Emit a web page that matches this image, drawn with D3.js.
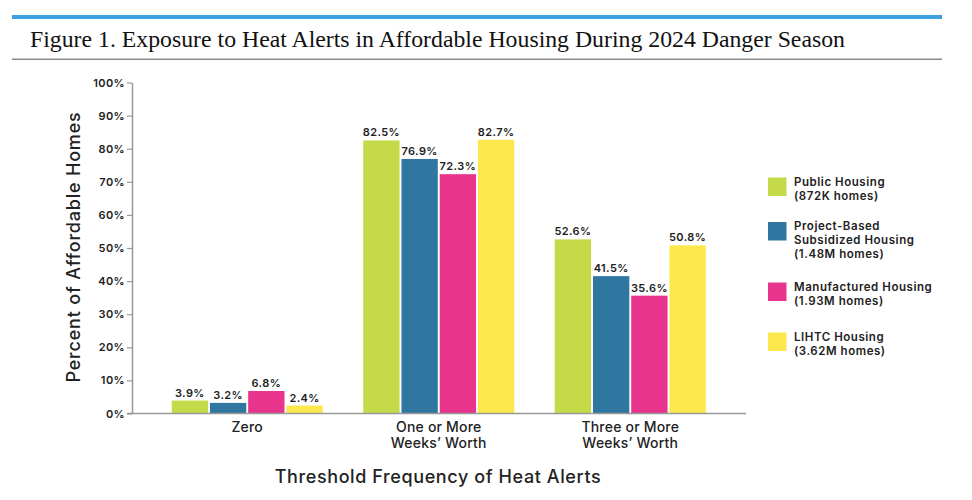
<!DOCTYPE html>
<html>
<head>
<meta charset="utf-8">
<script src="https://cdn.jsdelivr.net/npm/d3@7"></script>
<style>
  html, body { margin: 0; padding: 0; background: #fff; }
  svg { display: block; }
</style>
</head>
<body>
<svg id="chart" width="972" height="500"></svg>
<script>
const categories = [["Zero"], ["One or More", "Weeks\u2019 Worth"], ["Three or More", "Weeks\u2019 Worth"]];
const categoryKeys = ["Zero", "One or More Weeks\u2019 Worth", "Three or More Weeks\u2019 Worth"];
const seriesNames = [
  ["Public Housing", "(872K homes)"],
  ["Project-Based", "Subsidized Housing", "(1.48M homes)"],
  ["Manufactured Housing", "(1.93M homes)"],
  ["LIHTC Housing", "(3.62M homes)"]
];
const seriesKeys = ["public", "project", "manufactured", "lihtc"];
const seriesColors = ["#c4da48", "#2f76a1", "#e8348c", "#fce84c"];
const publicHousing = [3.9, 82.5, 52.6];
const projectBased = [3.2, 76.9, 41.5];
const manufactured = [6.8, 72.3, 35.6];
const lihtc = [2.4, 82.7, 50.8];
const yTicks = [0, 10, 20, 30, 40, 50, 60, 70, 80, 90, 100];

const seriesValues = [publicHousing, projectBased, manufactured, lihtc];

const svg = d3.select("#chart");
const sans = "Inter, 'Noto Sans', sans-serif";
const textColor = "#222";

// header
svg.append("rect").attr("x", 12).attr("y", 15).attr("width", 930).attr("height", 4).attr("fill", "#3fa0e0");
svg.append("text")
  .attr("x", 30).attr("y", 47)
  .attr("font-family", "'Liberation Serif', 'Times New Roman', serif")
  .attr("font-size", 23)
  .attr("fill", "#111")
  .attr("textLength", 815).attr("lengthAdjust", "spacingAndGlyphs")
  .text("Figure 1. Exposure to Heat Alerts in Affordable Housing During 2024 Danger Season");
svg.append("rect").attr("x", 12).attr("y", 58.5).attr("width", 930).attr("height", 1.5).attr("fill", "#8a8a8a");

// scales
const x0 = d3.scaleBand().domain(categoryKeys).range([131.5, 746]).paddingInner(0.2115).paddingOuter(0.21);
const x1 = d3.scaleBand().domain(seriesKeys).range([0, x0.bandwidth()]).paddingInner(0.05);
const y = d3.scaleLinear().domain([0, 100]).range([413.5, 82.5]);

// y axis
const yAxis = d3.axisLeft(y).tickValues(yTicks).tickFormat(d => d + "%").tickSize(5).tickSizeOuter(0);
const gy = svg.append("g").attr("transform", "translate(132,0)").call(yAxis);
gy.select(".domain").attr("stroke", "#999").attr("stroke-width", 1.5);
gy.selectAll(".tick line").attr("stroke", "#999").attr("stroke-width", 1.2);
gy.selectAll(".tick text")
  .attr("font-family", sans).attr("font-size", 11).attr("font-weight", 600)
  .attr("letter-spacing", 0.4)
  .attr("fill", textColor).attr("x", -7);

// bars
const groups = svg.append("g").selectAll("g").data(categoryKeys).join("g")
  .attr("transform", d => `translate(${x0(d)},0)`);

groups.each(function(cat, ci) {
  const g = d3.select(this);
  const rows = seriesKeys.map((k, si) => ({ key: k, value: seriesValues[si][ci], color: seriesColors[si] }));
  g.selectAll("rect").data(rows).join("rect")
    .attr("x", d => x1(d.key))
    .attr("y", d => y(d.value))
    .attr("width", x1.bandwidth())
    .attr("height", d => y(0) - y(d.value))
    .attr("fill", d => d.color);
  g.selectAll("text.val").data(rows).join("text").attr("class", "val")
    .attr("x", d => x1(d.key) + x1.bandwidth() / 2)
    .attr("y", d => y(d.value) - 4)
    .attr("text-anchor", "middle")
    .attr("font-family", sans).attr("font-size", 11).attr("font-weight", 600)
    .attr("letter-spacing", 0.4)
    .attr("fill", textColor)
    .text(d => d.value.toFixed(1) + "%");
});

// baseline
svg.append("line").attr("x1", 127).attr("x2", 746).attr("y1", y(0)).attr("y2", y(0))
  .attr("stroke", "#999").attr("stroke-width", 1.5);

// category labels
categoryKeys.forEach((k, i) => {
  const t = svg.append("text")
    .attr("x", x0(k) + x0.bandwidth() / 2).attr("y", 431.5)
    .attr("text-anchor", "middle")
    .attr("font-family", sans).attr("font-size", 14).attr("font-weight", 500)
    .attr("letter-spacing", 0.2)
    .attr("fill", textColor);
  categories[i].forEach((line, j) => {
    t.append("tspan").attr("x", x0(k) + x0.bandwidth() / 2).attr("dy", j === 0 ? 0 : 16).text(line);
  });
});

// axis titles
svg.append("text")
  .attr("x", 438).attr("y", 483)
  .attr("text-anchor", "middle")
  .attr("font-family", sans).attr("font-size", 18).attr("font-weight", 500)
  .attr("letter-spacing", 0.6)
  .attr("fill", textColor)
  .text("Threshold Frequency of Heat Alerts");
svg.append("text")
  .attr("transform", "translate(80,247) rotate(-90)")
  .attr("text-anchor", "middle")
  .attr("font-family", sans).attr("font-size", 18).attr("font-weight", 500)
  .attr("letter-spacing", 0.8)
  .attr("fill", textColor)
  .text("Percent of Affordable Homes");

// legend
const legendTops = [177.5, 222, 282.5, 332.5];
seriesNames.forEach((lines, i) => {
  const g = svg.append("g").attr("transform", `translate(768,${legendTops[i]})`);
  g.append("rect").attr("width", 18.5).attr("height", 18.5).attr("fill", seriesColors[i]);
  const t = g.append("text").attr("x", 26).attr("y", 8)
    .attr("font-family", sans).attr("font-size", 11.5).attr("font-weight", 600)
    .attr("letter-spacing", 0.55)
    .attr("fill", textColor);
  lines.forEach((line, j) => {
    t.append("tspan").attr("x", 26).attr("dy", j === 0 ? 0 : 14).text(line);
  });
});
</script>
</body>
</html>
